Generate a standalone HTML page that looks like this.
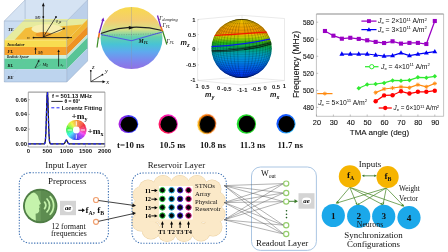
<!DOCTYPE html>
<html><head><meta charset="utf-8"><style>html,body{margin:0;padding:0;background:#fff;overflow:hidden}svg{display:block}</style></head>
<body><svg width="448" height="252" viewBox="0 0 448 252"><defs><linearGradient id="sph1" x1="0" y1="0" x2="0" y2="1"><stop offset="0" stop-color="#f8da4e"/><stop offset="0.22" stop-color="#f4cc70"/><stop offset="0.36" stop-color="#d8e088"/><stop offset="0.48" stop-color="#64d0ac"/><stop offset="0.6" stop-color="#48c4d4"/><stop offset="0.72" stop-color="#5eaaee"/><stop offset="0.86" stop-color="#7c88ee"/><stop offset="1" stop-color="#9070e4"/></linearGradient><linearGradient id="jet" x1="0" y1="0" x2="0" y2="1"><stop offset="0" stop-color="#eccc00"/><stop offset="0.08" stop-color="#f0b400"/><stop offset="0.17" stop-color="#f09e00"/><stop offset="0.24" stop-color="#f09000"/><stop offset="0.27" stop-color="#e8c800"/><stop offset="0.33" stop-color="#a8d000"/><stop offset="0.4" stop-color="#28b818"/><stop offset="0.5" stop-color="#00a868"/><stop offset="0.58" stop-color="#00a0b0"/><stop offset="0.68" stop-color="#0090dc"/><stop offset="0.8" stop-color="#0066e8"/><stop offset="0.92" stop-color="#0040ec"/><stop offset="1" stop-color="#0030d8"/></linearGradient><clipPath id="c3"><ellipse cx="241.6" cy="48.5" rx="30.2" ry="29.6"/></clipPath><linearGradient id="skg0" x1="0" y1="0" x2="1" y2="0"><stop offset="0" stop-color="#b020e0"/><stop offset="0.5" stop-color="#5030f0"/><stop offset="1" stop-color="#2040ff"/></linearGradient><linearGradient id="skg1" x1="0" y1="1" x2="1" y2="0"><stop offset="0" stop-color="#ff1030"/><stop offset="0.5" stop-color="#ff1890"/><stop offset="1" stop-color="#f020e0"/></linearGradient><linearGradient id="skg2" x1="0" y1="1" x2="1" y2="0"><stop offset="0" stop-color="#ffe020"/><stop offset="0.45" stop-color="#ff8000"/><stop offset="1" stop-color="#f05000"/></linearGradient><linearGradient id="skg3" x1="0" y1="0" x2="1" y2="0"><stop offset="0" stop-color="#20e030"/><stop offset="1" stop-color="#20d020"/></linearGradient><linearGradient id="skg4" x1="0" y1="0" x2="1" y2="1"><stop offset="0" stop-color="#1040ff"/><stop offset="0.5" stop-color="#1870ff"/><stop offset="1" stop-color="#40e0ff"/></linearGradient><filter id="blur1" x="-30%" y="-30%" width="160%" height="160%"><feGaussianBlur stdDeviation="0.6"/></filter><filter id="blur2" x="-30%" y="-30%" width="160%" height="160%"><feGaussianBlur stdDeviation="0.45"/></filter><clipPath id="ic"><circle cx="40.2" cy="206" r="15.3"/></clipPath><filter id="halo" x="-50%" y="-50%" width="200%" height="200%"><feGaussianBlur stdDeviation="0.5"/></filter></defs><g id="p1"><polygon points="4.3,21 66.8,21 87.6,0 25.1,0" fill="#d5e3f3"/><rect x="4.3" y="21" width="62.5" height="19.0" fill="#cadcf1"/><polygon points="66.8,21 87.6,0 87.6,19 66.8,40" fill="#bcd0ea"/><rect x="4.3" y="40" width="62.5" height="7.0" fill="#f8dc50"/><polygon points="66.8,40 87.6,19 87.6,26 66.8,47" fill="#f1b632"/><rect x="4.3" y="47" width="62.5" height="8.2" fill="#f6a22c"/><polygon points="66.8,47 87.6,26 87.6,34.2 66.8,55.2" fill="#ee9222"/><rect x="4.3" y="55.2" width="62.5" height="3.4" fill="#cdeedf"/><polygon points="66.8,55.2 87.6,34.2 87.6,37.6 66.8,58.6" fill="#bfe4d4"/><rect x="4.3" y="58.6" width="62.5" height="10.7" fill="#5ccb9a"/><polygon points="66.8,58.6 87.6,37.6 87.6,48.3 66.8,69.3" fill="#58c496"/><rect x="4.3" y="69.3" width="62.5" height="12.7" fill="#bdd4ee"/><polygon points="66.8,69.3 87.6,48.3 87.6,61 66.8,82" fill="#b2cbe8"/><polygon points="4.3,40 66.8,40 87.6,19 25.1,19" fill="#e6eb9e"/><polygon points="14.5,40 25.5,28.3 32,27 62,26.2 82.2,24.5 66.8,40" fill="#f3bc3a"/><ellipse cx="47" cy="29" rx="15.5" ry="4.8" fill="#f7efb0"/><ellipse cx="43.5" cy="34.5" rx="8" ry="2.4" fill="#ee9a2a"/><line x1="4.3" y1="40" x2="66.8" y2="40" stroke="#fbf0b0" stroke-width="0.6"/><polyline points="4.3,82 4.3,21 25.1,0" stroke="#8aa0c0" stroke-width="0.45" fill="none"/><polyline points="4.3,21 66.8,21 66.8,82 4.3,82" stroke="#8aa0c0" stroke-width="0.45" fill="none"/><polyline points="66.8,82 87.6,61 87.6,0" stroke="#8aa0c0" stroke-width="0.45" fill="none"/><line x1="66.8" y1="21" x2="87.6" y2="0" stroke="#8aa0c0" stroke-width="0.45" fill="none"/><line x1="25.1" y1="0" x2="25.1" y2="19" stroke="#8aa0c0" stroke-width="0.45" fill="none"/><line x1="4.3" y1="82" x2="25.1" y2="61.5" stroke="#8aa0c0" stroke-width="0.3" stroke-dasharray="1,1"/><g stroke="#111" stroke-width="0.75" fill="none"><line x1="43.3" y1="37" x2="43.3" y2="5"/><line x1="43.3" y1="37" x2="56" y2="17"/><line x1="43.3" y1="37" x2="64" y2="28.5"/><line x1="33" y1="37.6" x2="72" y2="37.6" stroke-width="0.9"/><line x1="35.5" y1="54" x2="35.5" y2="49"/><line x1="35" y1="68" x2="38.5" y2="61.5"/><line x1="35" y1="68" x2="41" y2="64.5" stroke-width="0.4" stroke-dasharray="0.8,0.6"/><line x1="58.6" y1="66.5" x2="58.6" y2="51.5"/></g><g fill="#111"><polygon points="41.9,6.2 44.7,6.2 43.3,2.6"/><circle cx="43.3" cy="17" r="0.9"/><circle cx="56" cy="17" r="0.9"/><circle cx="64" cy="28.5" r="0.9"/><circle cx="33.5" cy="37.6" r="0.9"/><circle cx="68" cy="37.6" r="0.9"/><polygon points="34.3,49.5 36.7,49.5 35.5,47.3"/><polygon points="57.4,52 59.8,52 58.6,49.6"/><polygon points="37.4,61.2 39.4,62.3 39.2,59.6"/></g><g font-family="Liberation Serif, Times New Roman, serif" font-style="italic" font-weight="bold" font-size="4.5" fill="#111"><text x="8" y="31">TE</text><text x="7.3" y="45.7">Insulator</text><text x="7.5" y="53">FL</text><text x="7" y="58.3" font-size="3.3">Realistic Spacer</text><text x="7.5" y="66.5">RL</text><text x="7.5" y="79">BE</text></g><g font-family="Liberation Serif, Times New Roman, serif" font-style="italic" font-size="4.6" fill="#111"><text x="35" y="18.5">M<tspan font-size="3" dy="0.8">0</tspan></text><text x="56" y="23" font-size="4">θ,φ</text><text x="38" y="53.5">M<tspan font-size="3" dy="0.8">f</tspan></text><text x="42.5" y="66">M<tspan font-size="3" dy="0.8">R</tspan></text><text x="60.5" y="66" font-size="4.2">z<tspan font-size="3" dy="0.8">r</tspan></text><text x="27" y="38.5" font-size="4">r<tspan font-size="3" dy="0.8">c</tspan></text></g></g><g stroke="#111" stroke-width="0.7" fill="none"><line x1="90.8" y1="81.7" x2="90.8" y2="70.5"/><line x1="90.8" y1="81.7" x2="103.5" y2="81.7"/><line x1="90.8" y1="81.7" x2="102.5" y2="74.7"/></g><g fill="#111"><circle cx="90.8" cy="70.8" r="0.9"/><circle cx="102.5" cy="74.7" r="0.9"/><polygon points="102.5,80.2 105.5,81.7 102.5,83.2"/></g><g font-family="Liberation Serif, Times New Roman, serif" font-style="italic" font-size="6.5" fill="#111"><text x="92" y="68.5">z</text><text x="105" y="73">y</text><text x="106.3" y="84">x</text></g><circle cx="131.5" cy="38" r="31" fill="url(#sph1)"/><line x1="131.5" y1="7" x2="131.5" y2="69" stroke="#8890a8" stroke-width="0.35"/><path d="M100.8,33.5 Q131.5,22.5 162.3,30.5" fill="none" stroke="#222" stroke-width="1.1"/><polygon points="128.8,26 134.2,27.8 128.8,29.6" fill="#111"/><path d="M100.8,34.5 L131.5,40.8 L162.3,32" fill="none" stroke="#4d5ce0" stroke-width="1.1"/><line x1="102" y1="35.4" x2="160" y2="33.6" stroke="#335" stroke-width="0.35" stroke-dasharray="1.2,1.2" opacity="0.7"/><line x1="99.2" y1="33" x2="102.8" y2="20.5" stroke="#7020c0" stroke-width="1.3"/><polygon points="101.2,20.5 104.4,21.3 103.4,17.6" fill="#7020c0"/><line x1="99.4" y1="33" x2="98.4" y2="38.5" stroke="#f27020" stroke-width="1.6"/><line x1="98.4" y1="37.5" x2="97" y2="47.5" stroke="#3a8a20" stroke-width="1.2"/><line x1="157.5" y1="15.5" x2="160.8" y2="27" stroke="#7020c0" stroke-width="1.3"/><line x1="160.8" y1="26.5" x2="162.6" y2="31.5" stroke="#f27020" stroke-width="1.6"/><line x1="162.6" y1="31" x2="166.8" y2="44.5" stroke="#3a8a20" stroke-width="1.2"/><g font-family="Liberation Serif, Times New Roman, serif" font-style="italic" fill="#111"><text x="159.2" y="20.2" font-size="5.4">Γ<tspan font-size="4.4" dy="1">damping</tspan></text><text x="162.6" y="26.6" font-size="5.4">Γ<tspan font-size="4" dy="1">FL</tspan></text><text x="166.5" y="43.4" font-size="5.4">Γ<tspan font-size="4" dy="1">FL</tspan></text><text x="138.5" y="42.6" font-size="5.8" font-weight="bold">M<tspan font-size="3.6" dy="1">FL</tspan></text></g><g stroke="#d4d4d4" stroke-width="0.5" fill="none"><polyline points="197.6,19.5 197.6,80.5 241,85"/><polyline points="197.6,19.5 242,15.3 284.5,18.5"/><line x1="241" y1="85" x2="284.5" y2="80.5"/><line x1="242" y1="15.3" x2="242" y2="19"/><line x1="284.5" y1="18.5" x2="284.5" y2="80.5"/><line x1="197.6" y1="80.5" x2="241" y2="77"/><line x1="241" y1="77" x2="284.5" y2="80.5"/></g><g stroke="#aaa" stroke-width="0.4"><line x1="197.6" y1="19.8" x2="199" y2="19.8"/><line x1="197.6" y1="34.6" x2="199" y2="34.6"/><line x1="197.6" y1="49" x2="199" y2="49"/><line x1="197.6" y1="64.9" x2="199" y2="64.9"/><line x1="197.6" y1="80" x2="199" y2="80"/></g><ellipse cx="241.6" cy="48.5" rx="30.2" ry="29.6" fill="url(#jet)"/><g clip-path="url(#c3)"><path d="M229.53,21.37 A12.07,2.37 0 0 0 253.67,21.37" fill="none" stroke="#000" stroke-opacity="0.4" stroke-width="0.3"/><path d="M224.91,23.83 A16.69,3.27 0 0 0 258.29,23.83" fill="none" stroke="#000" stroke-opacity="0.4" stroke-width="0.3"/><path d="M221.62,26.30 A19.98,3.92 0 0 0 261.58,26.30" fill="none" stroke="#000" stroke-opacity="0.4" stroke-width="0.3"/><path d="M219.09,28.77 A22.51,4.41 0 0 0 264.11,28.77" fill="none" stroke="#000" stroke-opacity="0.4" stroke-width="0.3"/><path d="M217.07,31.23 A24.53,4.81 0 0 0 266.13,31.23" fill="none" stroke="#000" stroke-opacity="0.4" stroke-width="0.3"/><path d="M215.45,33.70 A26.15,5.13 0 0 0 267.75,33.70" fill="none" stroke="#000" stroke-opacity="0.4" stroke-width="0.3"/><path d="M214.15,36.17 A27.45,5.38 0 0 0 269.05,36.17" fill="none" stroke="#000" stroke-opacity="0.4" stroke-width="0.3"/><path d="M213.13,38.63 A28.47,5.58 0 0 0 270.07,38.63" fill="none" stroke="#000" stroke-opacity="0.4" stroke-width="0.3"/><path d="M212.36,41.10 A29.24,5.73 0 0 0 270.84,41.10" fill="none" stroke="#000" stroke-opacity="0.4" stroke-width="0.3"/><path d="M211.82,43.57 A29.78,5.84 0 0 0 271.38,43.57" fill="none" stroke="#000" stroke-opacity="0.4" stroke-width="0.3"/><path d="M211.51,46.03 A30.09,5.90 0 0 0 271.69,46.03" fill="none" stroke="#000" stroke-opacity="0.4" stroke-width="0.3"/><path d="M211.40,48.50 A30.20,5.92 0 0 0 271.80,48.50" fill="none" stroke="#000" stroke-opacity="0.4" stroke-width="0.3"/><path d="M211.51,50.97 A30.09,5.90 0 0 0 271.69,50.97" fill="none" stroke="#000" stroke-opacity="0.4" stroke-width="0.3"/><path d="M211.82,53.43 A29.78,5.84 0 0 0 271.38,53.43" fill="none" stroke="#000" stroke-opacity="0.4" stroke-width="0.3"/><path d="M212.36,55.90 A29.24,5.73 0 0 0 270.84,55.90" fill="none" stroke="#000" stroke-opacity="0.4" stroke-width="0.3"/><path d="M213.13,58.37 A28.47,5.58 0 0 0 270.07,58.37" fill="none" stroke="#000" stroke-opacity="0.4" stroke-width="0.3"/><path d="M214.15,60.83 A27.45,5.38 0 0 0 269.05,60.83" fill="none" stroke="#000" stroke-opacity="0.4" stroke-width="0.3"/><path d="M215.45,63.30 A26.15,5.13 0 0 0 267.75,63.30" fill="none" stroke="#000" stroke-opacity="0.4" stroke-width="0.3"/><path d="M217.07,65.77 A24.53,4.81 0 0 0 266.13,65.77" fill="none" stroke="#000" stroke-opacity="0.4" stroke-width="0.3"/><path d="M219.09,68.23 A22.51,4.41 0 0 0 264.11,68.23" fill="none" stroke="#000" stroke-opacity="0.4" stroke-width="0.3"/><path d="M221.62,70.70 A19.98,3.92 0 0 0 261.58,70.70" fill="none" stroke="#000" stroke-opacity="0.4" stroke-width="0.3"/><path d="M224.91,73.17 A16.69,3.27 0 0 0 258.29,73.17" fill="none" stroke="#000" stroke-opacity="0.4" stroke-width="0.3"/><path d="M229.53,75.63 A12.07,2.37 0 0 0 253.67,75.63" fill="none" stroke="#000" stroke-opacity="0.4" stroke-width="0.3"/><ellipse cx="241.6" cy="48.5" rx="29.94" ry="29.6" fill="none" stroke="#000" stroke-opacity="0.35" stroke-width="0.3"/><ellipse cx="241.6" cy="48.5" rx="29.17" ry="29.6" fill="none" stroke="#000" stroke-opacity="0.35" stroke-width="0.3"/><ellipse cx="241.6" cy="48.5" rx="27.90" ry="29.6" fill="none" stroke="#000" stroke-opacity="0.35" stroke-width="0.3"/><ellipse cx="241.6" cy="48.5" rx="26.15" ry="29.6" fill="none" stroke="#000" stroke-opacity="0.35" stroke-width="0.3"/><ellipse cx="241.6" cy="48.5" rx="23.96" ry="29.6" fill="none" stroke="#000" stroke-opacity="0.35" stroke-width="0.3"/><ellipse cx="241.6" cy="48.5" rx="21.35" ry="29.6" fill="none" stroke="#000" stroke-opacity="0.35" stroke-width="0.3"/><ellipse cx="241.6" cy="48.5" rx="18.38" ry="29.6" fill="none" stroke="#000" stroke-opacity="0.35" stroke-width="0.3"/><ellipse cx="241.6" cy="48.5" rx="15.10" ry="29.6" fill="none" stroke="#000" stroke-opacity="0.35" stroke-width="0.3"/><ellipse cx="241.6" cy="48.5" rx="11.56" ry="29.6" fill="none" stroke="#000" stroke-opacity="0.35" stroke-width="0.3"/><ellipse cx="241.6" cy="48.5" rx="7.82" ry="29.6" fill="none" stroke="#000" stroke-opacity="0.35" stroke-width="0.3"/><ellipse cx="241.6" cy="48.5" rx="3.94" ry="29.6" fill="none" stroke="#000" stroke-opacity="0.35" stroke-width="0.3"/><ellipse cx="241.6" cy="48.5" rx="0.00" ry="29.6" fill="none" stroke="#000" stroke-opacity="0.35" stroke-width="0.3"/><ellipse cx="241.6" cy="48.5" rx="3.94" ry="29.6" fill="none" stroke="#000" stroke-opacity="0.35" stroke-width="0.3"/><ellipse cx="241.6" cy="48.5" rx="7.82" ry="29.6" fill="none" stroke="#000" stroke-opacity="0.35" stroke-width="0.3"/><ellipse cx="241.6" cy="48.5" rx="11.56" ry="29.6" fill="none" stroke="#000" stroke-opacity="0.35" stroke-width="0.3"/><ellipse cx="241.6" cy="48.5" rx="15.10" ry="29.6" fill="none" stroke="#000" stroke-opacity="0.35" stroke-width="0.3"/><ellipse cx="241.6" cy="48.5" rx="18.38" ry="29.6" fill="none" stroke="#000" stroke-opacity="0.35" stroke-width="0.3"/><ellipse cx="241.6" cy="48.5" rx="21.35" ry="29.6" fill="none" stroke="#000" stroke-opacity="0.35" stroke-width="0.3"/><ellipse cx="241.6" cy="48.5" rx="23.96" ry="29.6" fill="none" stroke="#000" stroke-opacity="0.35" stroke-width="0.3"/><ellipse cx="241.6" cy="48.5" rx="26.15" ry="29.6" fill="none" stroke="#000" stroke-opacity="0.35" stroke-width="0.3"/><ellipse cx="241.6" cy="48.5" rx="27.90" ry="29.6" fill="none" stroke="#000" stroke-opacity="0.35" stroke-width="0.3"/><ellipse cx="241.6" cy="48.5" rx="29.17" ry="29.6" fill="none" stroke="#000" stroke-opacity="0.35" stroke-width="0.3"/><ellipse cx="241.6" cy="48.5" rx="29.94" ry="29.6" fill="none" stroke="#000" stroke-opacity="0.35" stroke-width="0.3"/><path d="M211,35.6 Q240,34.2 272,31.6" stroke="#f01800" stroke-width="1.3" fill="none"/><path d="M211,46.6 Q245,45 272,38.6" stroke="#0818f0" stroke-width="1.4" fill="none"/><path d="M211,50.8 Q245,50.5 272,42.4" stroke="#111" stroke-width="0.8" fill="none"/><path d="M212,51.8 Q248,51.5 272,44" stroke="#111" stroke-width="0.6" fill="none"/><path d="M228,48.6 Q252,48.2 272,41.2" stroke="#111" stroke-width="0.4" fill="none"/><path d="M244,49.5 Q260,47.8 272,43.6" stroke="#000" stroke-width="0.5" fill="none"/></g><g font-family="Liberation Sans, Arial, sans-serif" font-weight="bold" font-size="5.8" fill="#111" text-anchor="end"><text x="195.6" y="21.6">1</text><text x="196" y="36.7">0.5</text><text x="195.6" y="50.7">0</text><text x="196" y="67">-0.5</text><text x="195.6" y="82.1">-1</text></g><g font-family="Liberation Sans, Arial, sans-serif" font-weight="bold" font-size="5.8" fill="#111" text-anchor="middle"><text x="197" y="88">1</text><text x="205.5" y="89">0.5</text><text x="218.7" y="90">0</text><text x="226.5" y="91">-0.5</text><text x="239.6" y="92">-1</text><text x="244.8" y="92">-1</text><text x="256" y="91">-0.5</text><text x="265.2" y="90">0</text><text x="276" y="89">0.5</text><text x="284.3" y="88">1</text></g><g font-family="Liberation Sans, Arial, sans-serif" font-weight="bold" font-style="italic" font-size="7.2" fill="#111"><text x="180.6" y="45">m<tspan font-size="5.2" dy="1.8">z</tspan></text><text x="205" y="97.2">m<tspan font-size="5.2" dy="1.8">y</tspan></text><text x="270" y="97.2">m<tspan font-size="5.2" dy="1.8">x</tspan></text></g><line x1="316.4" y1="14" x2="443.6" y2="14" stroke="#8a8a8a" stroke-width="1.1"/><polyline points="316.4,14 316.4,116.3 443.6,116.3 443.6,14" fill="none" stroke="#9a9a9a" stroke-width="0.6"/><g stroke="#888" stroke-width="0.5"><line x1="316.50" y1="116.3" x2="316.50" y2="114.5"/><line x1="333.40" y1="116.3" x2="333.40" y2="114.5"/><line x1="350.30" y1="116.3" x2="350.30" y2="114.5"/><line x1="367.20" y1="116.3" x2="367.20" y2="114.5"/><line x1="384.10" y1="116.3" x2="384.10" y2="114.5"/><line x1="401.00" y1="116.3" x2="401.00" y2="114.5"/><line x1="417.90" y1="116.3" x2="417.90" y2="114.5"/><line x1="434.80" y1="116.3" x2="434.80" y2="114.5"/><line x1="316.4" y1="107.40" x2="318.2" y2="107.40"/><line x1="316.4" y1="90.36" x2="318.2" y2="90.36"/><line x1="316.4" y1="73.32" x2="318.2" y2="73.32"/><line x1="316.4" y1="56.28" x2="318.2" y2="56.28"/><line x1="316.4" y1="39.24" x2="318.2" y2="39.24"/><line x1="316.4" y1="22.20" x2="318.2" y2="22.20"/></g><g font-family="Liberation Sans, Arial, sans-serif" font-size="7.3" fill="#111" stroke="#111" stroke-width="0.12" text-anchor="end"><text x="313.8" y="110.00" textLength="10.8" lengthAdjust="spacingAndGlyphs">480</text><text x="313.8" y="92.96" textLength="10.8" lengthAdjust="spacingAndGlyphs">500</text><text x="313.8" y="75.92" textLength="10.8" lengthAdjust="spacingAndGlyphs">520</text><text x="313.8" y="58.88" textLength="10.8" lengthAdjust="spacingAndGlyphs">540</text><text x="313.8" y="41.84" textLength="10.8" lengthAdjust="spacingAndGlyphs">560</text><text x="313.8" y="24.80" textLength="10.8" lengthAdjust="spacingAndGlyphs">580</text></g><g font-family="Liberation Sans, Arial, sans-serif" font-size="7.3" fill="#111" stroke="#111" stroke-width="0.12" text-anchor="middle"><text x="316.90" y="124.8">20</text><text x="333.80" y="124.8">30</text><text x="350.70" y="124.8">40</text><text x="367.60" y="124.8">50</text><text x="384.50" y="124.8">60</text><text x="401.40" y="124.8">70</text><text x="418.30" y="124.8">80</text><text x="435.20" y="124.8">90</text></g><text font-family="Liberation Sans, Arial, sans-serif" font-size="8.05" fill="#111" stroke="#111" stroke-width="0.1" x="379.5" y="135.3" text-anchor="middle">TMA angle (deg)</text><text font-family="Liberation Sans, Arial, sans-serif" font-size="8.7" fill="#111" stroke="#111" stroke-width="0.1" transform="translate(298.6,64.5) rotate(-90)" text-anchor="middle">Frequency (MHz)</text><polyline points="324.95,31.00 333.40,35.70 341.85,38.70 350.30,37.80 358.75,38.90 367.20,40.30 375.65,41.90 384.10,43.00 392.55,41.30 401.00,43.60 409.45,42.90 417.90,42.90 426.35,44.00 434.80,21.00" fill="none" stroke="#9a00c4" stroke-width="1.25"/><rect x="322.90" y="28.95" width="4.10" height="4.10" fill="#9a00c4"/><rect x="331.35" y="33.65" width="4.10" height="4.10" fill="#9a00c4"/><rect x="339.80" y="36.65" width="4.10" height="4.10" fill="#9a00c4"/><rect x="348.25" y="35.75" width="4.10" height="4.10" fill="#9a00c4"/><rect x="356.70" y="36.85" width="4.10" height="4.10" fill="#9a00c4"/><rect x="365.15" y="38.25" width="4.10" height="4.10" fill="#9a00c4"/><rect x="373.60" y="39.85" width="4.10" height="4.10" fill="#9a00c4"/><rect x="382.05" y="40.95" width="4.10" height="4.10" fill="#9a00c4"/><rect x="390.50" y="39.25" width="4.10" height="4.10" fill="#9a00c4"/><rect x="398.95" y="41.55" width="4.10" height="4.10" fill="#9a00c4"/><rect x="407.40" y="40.85" width="4.10" height="4.10" fill="#9a00c4"/><rect x="415.85" y="40.85" width="4.10" height="4.10" fill="#9a00c4"/><rect x="424.30" y="41.95" width="4.10" height="4.10" fill="#9a00c4"/><rect x="432.75" y="18.95" width="4.10" height="4.10" fill="#9a00c4"/><polyline points="341.85,54.00 350.30,54.00 358.75,54.00 367.20,54.00 375.65,55.00 384.10,56.00 392.55,55.60 401.00,52.90 409.45,55.60 417.90,54.10 426.35,52.90 434.80,51.60" fill="none" stroke="#0000f4" stroke-width="1.25"/><polygon points="341.85,51.35 339.40,55.72 344.30,55.72" fill="#0000f4"/><polygon points="350.30,51.35 347.85,55.72 352.75,55.72" fill="#0000f4"/><polygon points="358.75,51.35 356.30,55.72 361.20,55.72" fill="#0000f4"/><polygon points="367.20,51.35 364.75,55.72 369.65,55.72" fill="#0000f4"/><polygon points="375.65,52.35 373.20,56.72 378.10,56.72" fill="#0000f4"/><polygon points="384.10,53.35 381.65,57.72 386.55,57.72" fill="#0000f4"/><polygon points="392.55,52.95 390.10,57.32 395.00,57.32" fill="#0000f4"/><polygon points="401.00,50.25 398.55,54.62 403.45,54.62" fill="#0000f4"/><polygon points="409.45,52.95 407.00,57.32 411.90,57.32" fill="#0000f4"/><polygon points="417.90,51.45 415.45,55.82 420.35,55.82" fill="#0000f4"/><polygon points="426.35,50.25 423.90,54.62 428.80,54.62" fill="#0000f4"/><polygon points="434.80,48.95 432.35,53.32 437.25,53.32" fill="#0000f4"/><polyline points="358.75,88.30 367.20,84.50 375.65,84.00 384.10,82.90 392.55,80.50 401.00,80.70 409.45,80.20 417.90,77.30 426.35,77.70 434.80,76.30" fill="none" stroke="#30ea30" stroke-width="1.25"/><polygon points="358.75,86.05 361.00,88.30 358.75,90.55 356.50,88.30" fill="#30ea30"/><polygon points="367.20,82.25 369.45,84.50 367.20,86.75 364.95,84.50" fill="#30ea30"/><polygon points="375.65,81.75 377.90,84.00 375.65,86.25 373.40,84.00" fill="#30ea30"/><polygon points="384.10,80.65 386.35,82.90 384.10,85.15 381.85,82.90" fill="#30ea30"/><polygon points="392.55,78.25 394.80,80.50 392.55,82.75 390.30,80.50" fill="#30ea30"/><polygon points="401.00,78.45 403.25,80.70 401.00,82.95 398.75,80.70" fill="#30ea30"/><polygon points="409.45,77.95 411.70,80.20 409.45,82.45 407.20,80.20" fill="#30ea30"/><polygon points="417.90,75.05 420.15,77.30 417.90,79.55 415.65,77.30" fill="#30ea30"/><polygon points="426.35,75.45 428.60,77.70 426.35,79.95 424.10,77.70" fill="#30ea30"/><polygon points="434.80,74.05 437.05,76.30 434.80,78.55 432.55,76.30" fill="#30ea30"/><polyline points="375.65,92.60 384.10,89.00 392.55,88.00 401.00,86.80 409.45,87.70 417.90,84.70 426.35,86.80 434.80,83.50" fill="none" stroke="#ff8a10" stroke-width="1.25"/><g stroke="#ff8a10" stroke-width="0.9"><line x1="373.60" y1="92.60" x2="377.70" y2="92.60"/><line x1="375.65" y1="90.55" x2="375.65" y2="94.65"/><line x1="374.21" y1="91.16" x2="377.08" y2="94.03"/><line x1="374.21" y1="94.03" x2="377.08" y2="91.16"/></g><g stroke="#ff8a10" stroke-width="0.9"><line x1="382.05" y1="89.00" x2="386.15" y2="89.00"/><line x1="384.10" y1="86.95" x2="384.10" y2="91.05"/><line x1="382.67" y1="87.56" x2="385.54" y2="90.44"/><line x1="382.67" y1="90.44" x2="385.54" y2="87.56"/></g><g stroke="#ff8a10" stroke-width="0.9"><line x1="390.50" y1="88.00" x2="394.60" y2="88.00"/><line x1="392.55" y1="85.95" x2="392.55" y2="90.05"/><line x1="391.12" y1="86.56" x2="393.99" y2="89.44"/><line x1="391.12" y1="89.44" x2="393.99" y2="86.56"/></g><g stroke="#ff8a10" stroke-width="0.9"><line x1="398.95" y1="86.80" x2="403.05" y2="86.80"/><line x1="401.00" y1="84.75" x2="401.00" y2="88.85"/><line x1="399.56" y1="85.36" x2="402.44" y2="88.23"/><line x1="399.56" y1="88.23" x2="402.44" y2="85.36"/></g><g stroke="#ff8a10" stroke-width="0.9"><line x1="407.40" y1="87.70" x2="411.50" y2="87.70"/><line x1="409.45" y1="85.65" x2="409.45" y2="89.75"/><line x1="408.01" y1="86.27" x2="410.88" y2="89.14"/><line x1="408.01" y1="89.14" x2="410.88" y2="86.27"/></g><g stroke="#ff8a10" stroke-width="0.9"><line x1="415.85" y1="84.70" x2="419.95" y2="84.70"/><line x1="417.90" y1="82.65" x2="417.90" y2="86.75"/><line x1="416.46" y1="83.27" x2="419.33" y2="86.14"/><line x1="416.46" y1="86.14" x2="419.33" y2="83.27"/></g><g stroke="#ff8a10" stroke-width="0.9"><line x1="424.30" y1="86.80" x2="428.40" y2="86.80"/><line x1="426.35" y1="84.75" x2="426.35" y2="88.85"/><line x1="424.92" y1="85.36" x2="427.79" y2="88.23"/><line x1="424.92" y1="88.23" x2="427.79" y2="85.36"/></g><g stroke="#ff8a10" stroke-width="0.9"><line x1="432.75" y1="83.50" x2="436.85" y2="83.50"/><line x1="434.80" y1="81.45" x2="434.80" y2="85.55"/><line x1="433.37" y1="82.06" x2="436.24" y2="84.94"/><line x1="433.37" y1="84.94" x2="436.24" y2="82.06"/></g><polyline points="375.65,101.20 384.10,95.40 392.55,95.20 401.00,91.30 409.45,93.50 417.90,91.80 426.35,91.80 434.80,90.70" fill="none" stroke="#ff0000" stroke-width="1.25"/><circle cx="375.65" cy="101.20" r="2.20" fill="#ff0000"/><circle cx="384.10" cy="95.40" r="2.20" fill="#ff0000"/><circle cx="392.55" cy="95.20" r="2.20" fill="#ff0000"/><circle cx="401.00" cy="91.30" r="2.20" fill="#ff0000"/><circle cx="409.45" cy="93.50" r="2.20" fill="#ff0000"/><circle cx="417.90" cy="91.80" r="2.20" fill="#ff0000"/><circle cx="426.35" cy="91.80" r="2.20" fill="#ff0000"/><circle cx="434.80" cy="90.70" r="2.20" fill="#ff0000"/><line x1="361.4" y1="21.1" x2="376.5" y2="21.1" stroke="#9a00c4" stroke-width="1.25"/><rect x="367.00" y="19.15" width="3.90" height="3.90" fill="#9a00c4"/><text font-family="Liberation Sans, Arial, sans-serif" font-size="6.85" letter-spacing="-0.06" fill="#111" x="378" y="23.4"><tspan font-style="italic">J</tspan><tspan font-size="4.4" dy="1">e</tspan><tspan dy="-1"> = 2×10</tspan><tspan font-size="4.4" dy="-2.5">11</tspan><tspan dy="2.5"> A/m</tspan><tspan font-size="4.4" dy="-2.5">2</tspan></text><line x1="361.4" y1="29.6" x2="376.5" y2="29.6" stroke="#0000f4" stroke-width="1.25"/><polygon points="368.95,27.15 366.70,31.16 371.20,31.16" fill="#0000f4"/><text font-family="Liberation Sans, Arial, sans-serif" font-size="6.85" letter-spacing="-0.06" fill="#111" x="378" y="31.9"><tspan font-style="italic">J</tspan><tspan font-size="4.4" dy="1">e</tspan><tspan dy="-1"> = 3×10</tspan><tspan font-size="4.4" dy="-2.5">11</tspan><tspan dy="2.5"> A/m</tspan><tspan font-size="4.4" dy="-2.5">2</tspan></text><line x1="365" y1="66.7" x2="378.5" y2="66.7" stroke="#30ea30" stroke-width="1.25"/><circle cx="371.75" cy="66.70" r="2.15" fill="#fff" stroke="#30ea30" stroke-width="1"/><text font-family="Liberation Sans, Arial, sans-serif" font-size="6.85" letter-spacing="-0.06" fill="#111" x="381" y="68.6"><tspan font-style="italic">J</tspan><tspan font-size="4.4" dy="1">e</tspan><tspan dy="-1"> = 4×10</tspan><tspan font-size="4.4" dy="-2.5">11</tspan><tspan dy="2.5"> A/m</tspan><tspan font-size="4.4" dy="-2.5">2</tspan></text><line x1="317.2" y1="93.6" x2="332.5" y2="93.6" stroke="#ff8a10" stroke-width="1.25"/><g stroke="#ff8a10" stroke-width="0.9"><line x1="322.90" y1="93.60" x2="326.80" y2="93.60"/><line x1="324.85" y1="91.65" x2="324.85" y2="95.55"/><line x1="323.49" y1="92.23" x2="326.22" y2="94.96"/><line x1="323.49" y1="94.96" x2="326.22" y2="92.23"/></g><text font-family="Liberation Sans, Arial, sans-serif" font-size="6.85" letter-spacing="-0.06" fill="#111" x="318.2" y="104.9"><tspan font-style="italic">J</tspan><tspan font-size="4.4" dy="1">e</tspan><tspan dy="-1"> = 5×10</tspan><tspan font-size="4.4" dy="-2.5">11</tspan><tspan dy="2.5"> A/m</tspan><tspan font-size="4.4" dy="-2.5">2</tspan></text><line x1="378.7" y1="108" x2="391.8" y2="108" stroke="#ff0000" stroke-width="1.25"/><circle cx="385.25" cy="108.00" r="2.15" fill="#ff0000"/><text font-family="Liberation Sans, Arial, sans-serif" font-size="6.3" letter-spacing="-0.06" fill="#111" x="393.6" y="110.2"><tspan font-style="italic">J</tspan><tspan font-size="4.4" dy="1">e</tspan><tspan dy="-1"> = 6×10</tspan><tspan font-size="4.4" dy="-2.5">11</tspan><tspan dy="2.5"> A/m</tspan><tspan font-size="4.4" dy="-2.5">2</tspan></text><line x1="28.3" y1="92.1" x2="104.9" y2="92.1" stroke="#8a8a8a" stroke-width="1"/><polyline points="28.3,92.1 28.3,147 104.9,147 104.9,92.1" fill="none" stroke="#8a8a8a" stroke-width="0.7"/><polyline points="28.30,143.90 30.21,143.90 32.11,143.90 34.02,143.90 35.92,143.90 37.83,143.90 39.73,143.90 41.63,143.90 43.54,143.90 43.56,143.90 43.58,143.90 43.60,143.90 43.62,143.90 43.64,143.89 43.65,143.89 43.67,143.89 43.69,143.89 43.71,143.89 43.73,143.89 43.75,143.89 43.77,143.89 43.79,143.89 43.81,143.89 43.83,143.89 43.84,143.89 43.86,143.88 43.88,143.88 43.90,143.88 43.92,143.88 43.94,143.88 43.96,143.88 43.98,143.87 44.00,143.87 44.02,143.87 44.04,143.87 44.05,143.86 44.07,143.86 44.09,143.86 44.11,143.85 44.13,143.85 44.15,143.84 44.17,143.84 44.19,143.83 44.21,143.83 44.23,143.82 44.24,143.82 44.26,143.81 44.28,143.80 44.30,143.79 44.32,143.79 44.34,143.78 44.36,143.77 44.38,143.76 44.40,143.75 44.42,143.73 44.44,143.72 44.45,143.71 44.47,143.69 44.49,143.68 44.51,143.66 44.53,143.64 44.55,143.63 44.57,143.61 44.59,143.58 44.61,143.56 44.63,143.54 44.64,143.51 44.66,143.49 44.68,143.46 44.70,143.43 44.72,143.39 44.74,143.36 44.76,143.32 44.78,143.28 44.80,143.24 44.82,143.20 44.84,143.15 44.85,143.10 44.87,143.05 44.89,143.00 44.91,142.94 44.93,142.88 44.95,142.82 44.97,142.75 44.99,142.68 45.01,142.60 45.03,142.53 45.04,142.44 45.06,142.36 45.08,142.27 45.10,142.17 45.12,142.07 45.14,141.96 45.16,141.85 45.18,141.74 45.20,141.62 45.22,141.49 45.24,141.36 45.25,141.22 45.27,141.07 45.29,140.92 45.31,140.76 45.33,140.60 45.35,140.42 45.37,140.24 45.39,140.06 45.41,139.86 45.43,139.66 45.45,139.45 45.46,139.23 45.48,139.01 45.50,138.77 45.52,138.53 45.54,138.27 45.56,138.01 45.58,137.74 45.60,137.46 45.62,137.16 45.64,136.86 45.65,136.55 45.67,136.23 45.69,135.90 45.71,135.56 45.73,135.21 45.75,134.84 45.77,134.47 45.79,134.09 45.81,133.69 45.83,133.28 45.85,132.87 45.86,132.44 45.88,132.00 45.90,131.55 45.92,131.09 45.94,130.62 45.96,130.14 45.98,129.64 46.00,129.14 46.02,128.63 46.04,128.10 46.05,127.57 46.07,127.02 46.09,126.46 46.11,125.90 46.13,125.32 46.15,124.74 46.17,124.15 46.19,123.55 46.21,122.94 46.23,122.32 46.25,121.69 46.26,121.06 46.28,120.42 46.30,119.77 46.32,119.12 46.34,118.46 46.36,117.80 46.38,117.13 46.40,116.46 46.42,115.78 46.44,115.10 46.45,114.42 46.47,113.73 46.49,113.05 46.51,112.36 46.53,111.68 46.55,110.99 46.57,110.31 46.59,109.63 46.61,108.95 46.63,108.27 46.65,107.60 46.66,106.94 46.68,106.28 46.70,105.62 46.72,104.97 46.74,104.33 46.76,103.70 46.78,103.08 46.80,102.47 46.82,101.87 46.84,101.28 46.85,100.70 46.87,100.13 46.89,99.58 46.91,99.04 46.93,98.52 46.95,98.02 46.97,97.53 46.99,97.05 47.01,96.60 47.03,96.16 47.05,95.74 47.06,95.34 47.08,94.96 47.10,94.60 47.12,94.26 47.14,93.94 47.16,93.65 47.18,93.37 47.20,93.12 47.22,92.89 47.24,92.69 47.25,92.60 47.27,92.60 47.29,92.60 47.31,92.60 47.33,92.60 47.35,92.60 47.37,92.60 47.39,92.60 47.41,92.60 47.43,92.60 47.45,92.60 47.46,92.60 47.48,92.60 47.50,92.60 47.52,92.60 47.54,92.69 47.56,92.89 47.58,93.12 47.60,93.37 47.62,93.65 47.64,93.94 47.65,94.26 47.67,94.60 47.69,94.96 47.71,95.34 47.73,95.74 47.75,96.16 47.77,96.60 47.79,97.05 47.81,97.53 47.83,98.02 47.85,98.52 47.86,99.04 47.88,99.58 47.90,100.13 47.92,100.70 47.94,101.28 47.96,101.87 47.98,102.47 48.00,103.08 48.02,103.70 48.04,104.33 48.05,104.97 48.07,105.62 48.09,106.28 48.11,106.94 48.13,107.60 48.15,108.27 48.17,108.95 48.19,109.63 48.21,110.31 48.23,110.99 48.25,111.68 48.26,112.36 48.28,113.05 48.30,113.73 48.32,114.42 48.34,115.10 48.36,115.78 48.38,116.46 48.40,117.13 48.42,117.80 48.44,118.46 48.45,119.12 48.47,119.77 48.49,120.42 48.51,121.06 48.53,121.69 48.55,122.32 48.57,122.94 48.59,123.55 48.61,124.15 48.63,124.74 48.65,125.32 48.66,125.90 48.68,126.46 48.70,127.02 48.72,127.57 48.74,128.10 48.76,128.63 48.78,129.14 48.80,129.64 48.82,130.14 48.84,130.62 48.85,131.09 48.87,131.55 48.89,132.00 48.91,132.44 48.93,132.87 48.95,133.28 48.97,133.69 48.99,134.09 49.01,134.47 49.03,134.84 49.05,135.21 49.06,135.56 49.08,135.90 49.10,136.23 49.12,136.55 49.14,136.86 49.16,137.16 49.18,137.46 49.20,137.74 49.22,138.01 49.24,138.27 49.26,138.53 49.27,138.77 49.29,139.01 49.31,139.23 49.33,139.45 49.35,139.66 49.37,139.86 49.39,140.06 49.41,140.24 49.43,140.42 49.45,140.60 49.46,140.76 49.48,140.92 49.50,141.07 49.52,141.22 49.54,141.36 49.56,141.49 49.58,141.62 49.60,141.74 49.62,141.85 49.64,141.96 49.66,142.07 49.67,142.17 49.69,142.27 49.71,142.36 49.73,142.44 49.75,142.53 49.77,142.60 49.79,142.68 49.81,142.75 49.83,142.82 49.85,142.88 49.86,142.94 49.88,143.00 49.90,143.05 49.92,143.10 49.94,143.15 49.96,143.20 49.98,143.24 50.00,143.28 50.02,143.32 50.04,143.36 50.06,143.39 50.07,143.43 50.09,143.46 50.11,143.49 50.13,143.51 50.15,143.54 50.17,143.56 50.19,143.58 50.21,143.61 50.23,143.63 50.25,143.64 50.26,143.66 50.28,143.68 50.30,143.69 50.32,143.71 50.34,143.72 50.36,143.73 50.38,143.75 50.40,143.76 50.42,143.77 50.44,143.78 50.46,143.79 50.47,143.79 50.49,143.80 50.51,143.81 50.53,143.82 50.55,143.82 50.57,143.83 50.59,143.83 50.61,143.84 50.63,143.84 50.65,143.85 50.66,143.85 50.68,143.86 50.70,143.86 50.72,143.86 50.74,143.87 50.76,143.87 50.78,143.87 50.80,143.87 50.82,143.88 50.84,143.88 50.86,143.88 50.87,143.88 50.89,143.88 50.91,143.88 50.93,143.89 50.95,143.89 50.97,143.89 50.99,143.89 51.01,143.89 51.03,143.89 51.05,143.89 51.06,143.89 51.08,143.89 51.10,143.89 51.12,143.89 51.14,143.89 51.16,143.90 53.06,143.90 54.97,143.90 56.88,143.90 58.78,143.90 60.69,143.90 62.59,143.90 62.67,143.90 62.74,143.90 62.82,143.89 62.89,143.89 62.97,143.89 63.05,143.89 63.12,143.88 63.20,143.88 63.28,143.87 63.35,143.87 63.43,143.86 63.50,143.85 63.58,143.83 63.66,143.82 63.73,143.80 63.81,143.77 63.89,143.75 63.96,143.71 64.04,143.68 64.11,143.63 64.19,143.58 64.27,143.52 64.34,143.46 64.42,143.38 64.50,143.30 64.57,143.20 64.65,143.10 64.72,142.98 64.80,142.86 64.88,142.73 64.95,142.58 65.03,142.43 65.10,142.27 65.18,142.10 65.26,141.93 65.33,141.75 65.41,141.57 65.49,141.40 65.56,141.22 65.64,141.05 65.71,140.88 65.79,140.73 65.87,140.58 65.94,140.45 66.02,140.34 66.10,140.24 66.17,140.17 66.25,140.11 66.32,140.08 66.40,140.06 66.48,140.08 66.55,140.11 66.63,140.17 66.70,140.24 66.78,140.34 66.86,140.45 66.93,140.58 67.01,140.73 67.09,140.88 67.16,141.05 67.24,141.22 67.31,141.40 67.39,141.57 67.47,141.75 67.54,141.93 67.62,142.10 67.70,142.27 67.77,142.43 67.85,142.58 67.92,142.73 68.00,142.86 68.08,142.98 68.15,143.10 68.23,143.20 68.31,143.30 68.38,143.38 68.46,143.46 68.53,143.52 68.61,143.58 68.69,143.63 68.76,143.68 68.84,143.71 68.91,143.75 68.99,143.77 69.07,143.80 69.14,143.82 69.22,143.83 69.30,143.85 69.37,143.86 69.45,143.87 69.52,143.87 69.60,143.88 69.68,143.88 69.75,143.89 69.83,143.89 69.91,143.89 69.98,143.89 70.06,143.90 70.13,143.90 70.21,143.90 72.11,143.90 74.02,143.90 75.92,143.90 77.83,143.90 79.73,143.90 81.64,143.90 83.55,143.90 85.45,143.90 87.36,143.90 89.26,143.90 91.17,143.90 93.07,143.90 94.97,143.90 96.88,143.90 98.78,143.90 100.69,143.90 102.59,143.90 104.50,143.90" fill="none" stroke="#1a1a1a" stroke-width="1.3"/><polyline points="28.30,143.90 30.21,143.90 32.11,143.90 34.02,143.90 35.92,143.90 37.83,143.90 39.73,143.90 41.63,143.90 43.54,143.90 43.56,143.90 43.58,143.90 43.60,143.90 43.62,143.90 43.64,143.89 43.65,143.89 43.67,143.89 43.69,143.89 43.71,143.89 43.73,143.89 43.75,143.89 43.77,143.89 43.79,143.89 43.81,143.89 43.83,143.89 43.84,143.89 43.86,143.88 43.88,143.88 43.90,143.88 43.92,143.88 43.94,143.88 43.96,143.88 43.98,143.87 44.00,143.87 44.02,143.87 44.04,143.87 44.05,143.86 44.07,143.86 44.09,143.86 44.11,143.85 44.13,143.85 44.15,143.84 44.17,143.84 44.19,143.83 44.21,143.83 44.23,143.82 44.24,143.82 44.26,143.81 44.28,143.80 44.30,143.79 44.32,143.79 44.34,143.78 44.36,143.77 44.38,143.76 44.40,143.75 44.42,143.73 44.44,143.72 44.45,143.71 44.47,143.69 44.49,143.68 44.51,143.66 44.53,143.64 44.55,143.63 44.57,143.61 44.59,143.58 44.61,143.56 44.63,143.54 44.64,143.51 44.66,143.49 44.68,143.46 44.70,143.43 44.72,143.39 44.74,143.36 44.76,143.32 44.78,143.28 44.80,143.24 44.82,143.20 44.84,143.15 44.85,143.10 44.87,143.05 44.89,143.00 44.91,142.94 44.93,142.88 44.95,142.82 44.97,142.75 44.99,142.68 45.01,142.60 45.03,142.53 45.04,142.44 45.06,142.36 45.08,142.27 45.10,142.17 45.12,142.07 45.14,141.96 45.16,141.85 45.18,141.74 45.20,141.62 45.22,141.49 45.24,141.36 45.25,141.22 45.27,141.07 45.29,140.92 45.31,140.76 45.33,140.60 45.35,140.42 45.37,140.24 45.39,140.06 45.41,139.86 45.43,139.66 45.45,139.45 45.46,139.23 45.48,139.01 45.50,138.77 45.52,138.53 45.54,138.27 45.56,138.01 45.58,137.74 45.60,137.46 45.62,137.16 45.64,136.86 45.65,136.55 45.67,136.23 45.69,135.90 45.71,135.56 45.73,135.21 45.75,134.84 45.77,134.47 45.79,134.09 45.81,133.69 45.83,133.28 45.85,132.87 45.86,132.44 45.88,132.00 45.90,131.55 45.92,131.09 45.94,130.62 45.96,130.14 45.98,129.64 46.00,129.14 46.02,128.63 46.04,128.10 46.05,127.57 46.07,127.02 46.09,126.46 46.11,125.90 46.13,125.32 46.15,124.74 46.17,124.15 46.19,123.55 46.21,122.94 46.23,122.32 46.25,121.69 46.26,121.06 46.28,120.42 46.30,119.77 46.32,119.12 46.34,118.46 46.36,117.80 46.38,117.13 46.40,116.46 46.42,115.78 46.44,115.10 46.45,114.42 46.47,113.73 46.49,113.05 46.51,112.36 46.53,111.68 46.55,110.99 46.57,110.31 46.59,109.63 46.61,108.95 46.63,108.27 46.65,107.60 46.66,106.94 46.68,106.28 46.70,105.62 46.72,104.97 46.74,104.33 46.76,103.70 46.78,103.08 46.80,102.47 46.82,101.87 46.84,101.28 46.85,100.70 46.87,100.13 46.89,99.58 46.91,99.04 46.93,98.52 46.95,98.02 46.97,97.53 46.99,97.05 47.01,96.60 47.03,96.16 47.05,95.74 47.06,95.34 47.08,94.96 47.10,94.60 47.12,94.26 47.14,93.94 47.16,93.65 47.18,93.37 47.20,93.12 47.22,92.89 47.24,92.69 47.25,92.60 47.27,92.60 47.29,92.60 47.31,92.60 47.33,92.60 47.35,92.60 47.37,92.60 47.39,92.60 47.41,92.60 47.43,92.60 47.45,92.60 47.46,92.60 47.48,92.60 47.50,92.60 47.52,92.60 47.54,92.69 47.56,92.89 47.58,93.12 47.60,93.37 47.62,93.65 47.64,93.94 47.65,94.26 47.67,94.60 47.69,94.96 47.71,95.34 47.73,95.74 47.75,96.16 47.77,96.60 47.79,97.05 47.81,97.53 47.83,98.02 47.85,98.52 47.86,99.04 47.88,99.58 47.90,100.13 47.92,100.70 47.94,101.28 47.96,101.87 47.98,102.47 48.00,103.08 48.02,103.70 48.04,104.33 48.05,104.97 48.07,105.62 48.09,106.28 48.11,106.94 48.13,107.60 48.15,108.27 48.17,108.95 48.19,109.63 48.21,110.31 48.23,110.99 48.25,111.68 48.26,112.36 48.28,113.05 48.30,113.73 48.32,114.42 48.34,115.10 48.36,115.78 48.38,116.46 48.40,117.13 48.42,117.80 48.44,118.46 48.45,119.12 48.47,119.77 48.49,120.42 48.51,121.06 48.53,121.69 48.55,122.32 48.57,122.94 48.59,123.55 48.61,124.15 48.63,124.74 48.65,125.32 48.66,125.90 48.68,126.46 48.70,127.02 48.72,127.57 48.74,128.10 48.76,128.63 48.78,129.14 48.80,129.64 48.82,130.14 48.84,130.62 48.85,131.09 48.87,131.55 48.89,132.00 48.91,132.44 48.93,132.87 48.95,133.28 48.97,133.69 48.99,134.09 49.01,134.47 49.03,134.84 49.05,135.21 49.06,135.56 49.08,135.90 49.10,136.23 49.12,136.55 49.14,136.86 49.16,137.16 49.18,137.46 49.20,137.74 49.22,138.01 49.24,138.27 49.26,138.53 49.27,138.77 49.29,139.01 49.31,139.23 49.33,139.45 49.35,139.66 49.37,139.86 49.39,140.06 49.41,140.24 49.43,140.42 49.45,140.60 49.46,140.76 49.48,140.92 49.50,141.07 49.52,141.22 49.54,141.36 49.56,141.49 49.58,141.62 49.60,141.74 49.62,141.85 49.64,141.96 49.66,142.07 49.67,142.17 49.69,142.27 49.71,142.36 49.73,142.44 49.75,142.53 49.77,142.60 49.79,142.68 49.81,142.75 49.83,142.82 49.85,142.88 49.86,142.94 49.88,143.00 49.90,143.05 49.92,143.10 49.94,143.15 49.96,143.20 49.98,143.24 50.00,143.28 50.02,143.32 50.04,143.36 50.06,143.39 50.07,143.43 50.09,143.46 50.11,143.49 50.13,143.51 50.15,143.54 50.17,143.56 50.19,143.58 50.21,143.61 50.23,143.63 50.25,143.64 50.26,143.66 50.28,143.68 50.30,143.69 50.32,143.71 50.34,143.72 50.36,143.73 50.38,143.75 50.40,143.76 50.42,143.77 50.44,143.78 50.46,143.79 50.47,143.79 50.49,143.80 50.51,143.81 50.53,143.82 50.55,143.82 50.57,143.83 50.59,143.83 50.61,143.84 50.63,143.84 50.65,143.85 50.66,143.85 50.68,143.86 50.70,143.86 50.72,143.86 50.74,143.87 50.76,143.87 50.78,143.87 50.80,143.87 50.82,143.88 50.84,143.88 50.86,143.88 50.87,143.88 50.89,143.88 50.91,143.88 50.93,143.89 50.95,143.89 50.97,143.89 50.99,143.89 51.01,143.89 51.03,143.89 51.05,143.89 51.06,143.89 51.08,143.89 51.10,143.89 51.12,143.89 51.14,143.89 51.16,143.90 53.06,143.90 54.97,143.90 56.88,143.90 58.78,143.90 60.69,143.90 62.59,143.90 62.67,143.90 62.74,143.90 62.82,143.89 62.89,143.89 62.97,143.89 63.05,143.89 63.12,143.88 63.20,143.88 63.28,143.87 63.35,143.87 63.43,143.86 63.50,143.85 63.58,143.83 63.66,143.82 63.73,143.80 63.81,143.77 63.89,143.75 63.96,143.71 64.04,143.68 64.11,143.63 64.19,143.58 64.27,143.52 64.34,143.46 64.42,143.38 64.50,143.30 64.57,143.20 64.65,143.10 64.72,142.98 64.80,142.86 64.88,142.73 64.95,142.58 65.03,142.43 65.10,142.27 65.18,142.10 65.26,141.93 65.33,141.75 65.41,141.57 65.49,141.40 65.56,141.22 65.64,141.05 65.71,140.88 65.79,140.73 65.87,140.58 65.94,140.45 66.02,140.34 66.10,140.24 66.17,140.17 66.25,140.11 66.32,140.08 66.40,140.06 66.48,140.08 66.55,140.11 66.63,140.17 66.70,140.24 66.78,140.34 66.86,140.45 66.93,140.58 67.01,140.73 67.09,140.88 67.16,141.05 67.24,141.22 67.31,141.40 67.39,141.57 67.47,141.75 67.54,141.93 67.62,142.10 67.70,142.27 67.77,142.43 67.85,142.58 67.92,142.73 68.00,142.86 68.08,142.98 68.15,143.10 68.23,143.20 68.31,143.30 68.38,143.38 68.46,143.46 68.53,143.52 68.61,143.58 68.69,143.63 68.76,143.68 68.84,143.71 68.91,143.75 68.99,143.77 69.07,143.80 69.14,143.82 69.22,143.83 69.30,143.85 69.37,143.86 69.45,143.87 69.52,143.87 69.60,143.88 69.68,143.88 69.75,143.89 69.83,143.89 69.91,143.89 69.98,143.89 70.06,143.90 70.13,143.90 70.21,143.90 72.11,143.90 74.02,143.90 75.92,143.90 77.83,143.90 79.73,143.90 81.64,143.90 83.55,143.90 85.45,143.90 87.36,143.90 89.26,143.90 91.17,143.90 93.07,143.90 94.97,143.90 96.88,143.90 98.78,143.90 100.69,143.90 102.59,143.90 104.50,143.90" fill="none" stroke="#2424ff" stroke-width="1.2" stroke-dasharray="2.6,2.6"/><g stroke="#777" stroke-width="0.5"><line x1="28.3" y1="143.90" x2="29.900000000000002" y2="143.90"/><line x1="28.3" y1="129.15" x2="29.900000000000002" y2="129.15"/><line x1="28.3" y1="114.40" x2="29.900000000000002" y2="114.40"/><line x1="28.3" y1="99.65" x2="29.900000000000002" y2="99.65"/><line x1="28.30" y1="147" x2="28.30" y2="145.4"/><line x1="47.35" y1="147" x2="47.35" y2="145.4"/><line x1="66.40" y1="147" x2="66.40" y2="145.4"/><line x1="85.45" y1="147" x2="85.45" y2="145.4"/><line x1="104.50" y1="147" x2="104.50" y2="145.4"/></g><g font-family="Liberation Sans, Arial, sans-serif" font-weight="bold" font-size="5.9" fill="#111" text-anchor="end"><text x="27" y="145.90">0.00</text><text x="27" y="131.15">0.02</text><text x="27" y="116.40">0.04</text><text x="27" y="101.65">0.06</text></g><g font-family="Liberation Sans, Arial, sans-serif" font-weight="bold" font-size="5.9" fill="#111" text-anchor="middle"><text x="28.30" y="153.3">0</text><text x="47.35" y="153.3">500</text><text x="66.40" y="153.3">1000</text><text x="85.45" y="153.3">1500</text><text x="104.50" y="153.3">2000</text></g><g font-family="Liberation Sans, Arial, sans-serif" font-weight="bold" fill="#111"><text x="51.9" y="97.6" font-size="5.85">f = 501.13 MHz</text><text x="64.4" y="103.3" font-size="5">θ = 60°</text><text x="61.8" y="109.8" font-size="5.8">Lorentz Fitting</text></g><line x1="51.3" y1="101.4" x2="62.7" y2="101.4" stroke="#111" stroke-width="0.9"/><line x1="51.3" y1="107.8" x2="61" y2="107.8" stroke="#2424ff" stroke-width="1" stroke-dasharray="3,2.2"/><g><path d="M76.3,130 L86.40,130.00 A10.1,10.1 0 0 0 86.35,128.98 Z" fill="hsl(337,88%,55%)"/><path d="M76.3,130 L86.36,129.12 A10.1,10.1 0 0 0 86.22,128.11 Z" fill="hsl(340,88%,55%)"/><path d="M76.3,130 L86.25,128.25 A10.1,10.1 0 0 0 86.02,127.25 Z" fill="hsl(343,88%,55%)"/><path d="M76.3,130 L86.06,127.39 A10.1,10.1 0 0 0 85.74,126.41 Z" fill="hsl(347,88%,55%)"/><path d="M76.3,130 L85.79,126.55 A10.1,10.1 0 0 0 85.39,125.60 Z" fill="hsl(350,88%,55%)"/><path d="M76.3,130 L85.45,125.73 A10.1,10.1 0 0 0 84.98,124.83 Z" fill="hsl(353,88%,55%)"/><path d="M76.3,130 L85.05,124.95 A10.1,10.1 0 0 0 84.49,124.09 Z" fill="hsl(357,88%,55%)"/><path d="M76.3,130 L84.57,124.21 A10.1,10.1 0 0 0 83.95,123.40 Z" fill="hsl(0,88%,55%)"/><path d="M76.3,130 L84.04,123.51 A10.1,10.1 0 0 0 83.34,122.76 Z" fill="hsl(3,88%,55%)"/><path d="M76.3,130 L83.44,122.86 A10.1,10.1 0 0 0 82.68,122.17 Z" fill="hsl(6,88%,55%)"/><path d="M76.3,130 L82.79,122.26 A10.1,10.1 0 0 0 81.98,121.65 Z" fill="hsl(10,88%,55%)"/><path d="M76.3,130 L82.09,121.73 A10.1,10.1 0 0 0 81.23,121.18 Z" fill="hsl(12,88%,55%)"/><path d="M76.3,130 L81.35,121.25 A10.1,10.1 0 0 0 80.44,120.79 Z" fill="hsl(16,88%,55%)"/><path d="M76.3,130 L80.57,120.85 A10.1,10.1 0 0 0 79.62,120.46 Z" fill="hsl(18,88%,55%)"/><path d="M76.3,130 L79.75,120.51 A10.1,10.1 0 0 0 78.78,120.21 Z" fill="hsl(22,88%,55%)"/><path d="M76.3,130 L78.91,120.24 A10.1,10.1 0 0 0 77.91,120.03 Z" fill="hsl(24,88%,55%)"/><path d="M76.3,130 L78.05,120.05 A10.1,10.1 0 0 0 77.04,119.93 Z" fill="hsl(28,88%,55%)"/><path d="M76.3,130 L77.18,119.94 A10.1,10.1 0 0 0 76.16,119.90 Z" fill="hsl(30,88%,55%)"/><path d="M76.3,130 L76.30,119.90 A10.1,10.1 0 0 0 75.28,119.95 Z" fill="hsl(34,88%,55%)"/><path d="M76.3,130 L75.42,119.94 A10.1,10.1 0 0 0 74.41,120.08 Z" fill="hsl(38,88%,55%)"/><path d="M76.3,130 L74.55,120.05 A10.1,10.1 0 0 0 73.55,120.28 Z" fill="hsl(43,88%,55%)"/><path d="M76.3,130 L73.69,120.24 A10.1,10.1 0 0 0 72.71,120.56 Z" fill="hsl(47,88%,55%)"/><path d="M76.3,130 L72.85,120.51 A10.1,10.1 0 0 0 71.90,120.91 Z" fill="hsl(51,88%,55%)"/><path d="M76.3,130 L72.03,120.85 A10.1,10.1 0 0 0 71.13,121.32 Z" fill="hsl(55,88%,55%)"/><path d="M76.3,130 L71.25,121.25 A10.1,10.1 0 0 0 70.39,121.81 Z" fill="hsl(59,88%,55%)"/><path d="M76.3,130 L70.51,121.73 A10.1,10.1 0 0 0 69.70,122.35 Z" fill="hsl(64,88%,55%)"/><path d="M76.3,130 L69.81,122.26 A10.1,10.1 0 0 0 69.06,122.96 Z" fill="hsl(68,88%,55%)"/><path d="M76.3,130 L69.16,122.86 A10.1,10.1 0 0 0 68.47,123.62 Z" fill="hsl(73,88%,55%)"/><path d="M76.3,130 L68.56,123.51 A10.1,10.1 0 0 0 67.95,124.32 Z" fill="hsl(80,88%,55%)"/><path d="M76.3,130 L68.03,124.21 A10.1,10.1 0 0 0 67.48,125.07 Z" fill="hsl(87,88%,55%)"/><path d="M76.3,130 L67.55,124.95 A10.1,10.1 0 0 0 67.09,125.86 Z" fill="hsl(93,88%,55%)"/><path d="M76.3,130 L67.15,125.73 A10.1,10.1 0 0 0 66.76,126.68 Z" fill="hsl(100,88%,55%)"/><path d="M76.3,130 L66.81,126.55 A10.1,10.1 0 0 0 66.51,127.52 Z" fill="hsl(107,88%,55%)"/><path d="M76.3,130 L66.54,127.39 A10.1,10.1 0 0 0 66.33,128.39 Z" fill="hsl(113,88%,55%)"/><path d="M76.3,130 L66.35,128.25 A10.1,10.1 0 0 0 66.23,129.26 Z" fill="hsl(120,88%,55%)"/><path d="M76.3,130 L66.24,129.12 A10.1,10.1 0 0 0 66.20,130.14 Z" fill="hsl(127,88%,55%)"/><path d="M76.3,130 L66.20,130.00 A10.1,10.1 0 0 0 66.25,131.02 Z" fill="hsl(133,88%,55%)"/><path d="M76.3,130 L66.24,130.88 A10.1,10.1 0 0 0 66.38,131.89 Z" fill="hsl(140,88%,55%)"/><path d="M76.3,130 L66.35,131.75 A10.1,10.1 0 0 0 66.58,132.75 Z" fill="hsl(147,88%,55%)"/><path d="M76.3,130 L66.54,132.61 A10.1,10.1 0 0 0 66.86,133.59 Z" fill="hsl(154,88%,55%)"/><path d="M76.3,130 L66.81,133.45 A10.1,10.1 0 0 0 67.21,134.40 Z" fill="hsl(161,88%,55%)"/><path d="M76.3,130 L67.15,134.27 A10.1,10.1 0 0 0 67.62,135.17 Z" fill="hsl(168,88%,55%)"/><path d="M76.3,130 L67.55,135.05 A10.1,10.1 0 0 0 68.11,135.91 Z" fill="hsl(175,88%,55%)"/><path d="M76.3,130 L68.03,135.79 A10.1,10.1 0 0 0 68.65,136.60 Z" fill="hsl(182,88%,55%)"/><path d="M76.3,130 L68.56,136.49 A10.1,10.1 0 0 0 69.26,137.24 Z" fill="hsl(189,88%,55%)"/><path d="M76.3,130 L69.16,137.14 A10.1,10.1 0 0 0 69.92,137.83 Z" fill="hsl(195,88%,55%)"/><path d="M76.3,130 L69.81,137.74 A10.1,10.1 0 0 0 70.62,138.35 Z" fill="hsl(200,88%,55%)"/><path d="M76.3,130 L70.51,138.27 A10.1,10.1 0 0 0 71.37,138.82 Z" fill="hsl(205,88%,55%)"/><path d="M76.3,130 L71.25,138.75 A10.1,10.1 0 0 0 72.16,139.21 Z" fill="hsl(211,88%,55%)"/><path d="M76.3,130 L72.03,139.15 A10.1,10.1 0 0 0 72.98,139.54 Z" fill="hsl(216,88%,55%)"/><path d="M76.3,130 L72.85,139.49 A10.1,10.1 0 0 0 73.82,139.79 Z" fill="hsl(221,88%,55%)"/><path d="M76.3,130 L73.69,139.76 A10.1,10.1 0 0 0 74.69,139.97 Z" fill="hsl(227,88%,55%)"/><path d="M76.3,130 L74.55,139.95 A10.1,10.1 0 0 0 75.56,140.07 Z" fill="hsl(232,88%,55%)"/><path d="M76.3,130 L75.42,140.06 A10.1,10.1 0 0 0 76.44,140.10 Z" fill="hsl(237,88%,55%)"/><path d="M76.3,130 L76.30,140.10 A10.1,10.1 0 0 0 77.32,140.05 Z" fill="hsl(242,88%,55%)"/><path d="M76.3,130 L77.18,140.06 A10.1,10.1 0 0 0 78.19,139.92 Z" fill="hsl(247,88%,55%)"/><path d="M76.3,130 L78.05,139.95 A10.1,10.1 0 0 0 79.05,139.72 Z" fill="hsl(251,88%,55%)"/><path d="M76.3,130 L78.91,139.76 A10.1,10.1 0 0 0 79.89,139.44 Z" fill="hsl(256,88%,55%)"/><path d="M76.3,130 L79.75,139.49 A10.1,10.1 0 0 0 80.70,139.09 Z" fill="hsl(260,88%,55%)"/><path d="M76.3,130 L80.57,139.15 A10.1,10.1 0 0 0 81.47,138.68 Z" fill="hsl(264,88%,55%)"/><path d="M76.3,130 L81.35,138.75 A10.1,10.1 0 0 0 82.21,138.19 Z" fill="hsl(269,88%,55%)"/><path d="M76.3,130 L82.09,138.27 A10.1,10.1 0 0 0 82.90,137.65 Z" fill="hsl(273,88%,55%)"/><path d="M76.3,130 L82.79,137.74 A10.1,10.1 0 0 0 83.54,137.04 Z" fill="hsl(278,88%,55%)"/><path d="M76.3,130 L83.44,137.14 A10.1,10.1 0 0 0 84.13,136.38 Z" fill="hsl(283,88%,55%)"/><path d="M76.3,130 L84.04,136.49 A10.1,10.1 0 0 0 84.65,135.68 Z" fill="hsl(289,88%,55%)"/><path d="M76.3,130 L84.57,135.79 A10.1,10.1 0 0 0 85.12,134.93 Z" fill="hsl(295,88%,55%)"/><path d="M76.3,130 L85.05,135.05 A10.1,10.1 0 0 0 85.51,134.14 Z" fill="hsl(301,88%,55%)"/><path d="M76.3,130 L85.45,134.27 A10.1,10.1 0 0 0 85.84,133.32 Z" fill="hsl(308,88%,55%)"/><path d="M76.3,130 L85.79,133.45 A10.1,10.1 0 0 0 86.09,132.48 Z" fill="hsl(314,88%,55%)"/><path d="M76.3,130 L86.06,132.61 A10.1,10.1 0 0 0 86.27,131.61 Z" fill="hsl(320,88%,55%)"/><path d="M76.3,130 L86.25,131.75 A10.1,10.1 0 0 0 86.37,130.74 Z" fill="hsl(326,88%,55%)"/><path d="M76.3,130 L86.36,130.88 A10.1,10.1 0 0 0 86.40,129.86 Z" fill="hsl(332,88%,55%)"/></g><circle cx="76.3" cy="130" r="3.4" fill="#fff"/><g stroke="#fff" stroke-width="0.9" stroke-linecap="round"><line x1="76.3" y1="121.6" x2="76.3" y2="125.2"/><line x1="76.3" y1="138.4" x2="76.3" y2="134.8"/><line x1="67.89999999999999" y1="130" x2="71.5" y2="130"/><line x1="84.7" y1="130" x2="81.1" y2="130"/></g><g font-family="Liberation Serif, Times New Roman, serif" font-weight="bold" font-size="9.2" fill="#111"><text x="71.6" y="119">+m<tspan font-size="6" dy="1.8">y</tspan></text><text x="87.6" y="134">+m<tspan font-size="6" dy="1.8">x</tspan></text></g><g transform="rotate(0 128.4 124)"><ellipse cx="128.4" cy="124" rx="9.9" ry="9.1" fill="url(#skg0)" filter="url(#blur1)"/><ellipse cx="129.0" cy="124.3" rx="8.4" ry="7.6" fill="#000" filter="url(#blur2)"/></g><g transform="rotate(0 168.2 124)"><ellipse cx="168.2" cy="124" rx="9.7" ry="9.7" fill="url(#skg1)" filter="url(#blur1)"/><ellipse cx="168.7" cy="124.3" rx="8.2" ry="8.2" fill="#000" filter="url(#blur2)"/></g><g transform="rotate(15 206.8 124.2)"><ellipse cx="206.8" cy="124.2" rx="9.3" ry="10.1" fill="url(#skg2)" filter="url(#blur1)"/><ellipse cx="207.3" cy="124.10000000000001" rx="7.800000000000001" ry="8.6" fill="#000" filter="url(#blur2)"/></g><g transform="rotate(0 246.4 124)"><ellipse cx="246.4" cy="124" rx="9.7" ry="9.8" fill="url(#skg3)" filter="url(#blur1)"/><ellipse cx="246.9" cy="124.1" rx="8.2" ry="8.3" fill="#000" filter="url(#blur2)"/></g><g transform="rotate(0 286 123.8)"><ellipse cx="286" cy="123.8" rx="9.6" ry="9.7" fill="url(#skg4)" filter="url(#blur1)"/><ellipse cx="286.5" cy="124.2" rx="8.1" ry="8.2" fill="#000" filter="url(#blur2)"/></g><g font-family="Liberation Serif, Times New Roman, serif" font-weight="bold" font-size="8.8" fill="#111"><text x="117.1" y="148.1">t=10 ns</text><text x="159.6" y="148.1">10.5 ns</text><text x="199.9" y="148.1">10.8 ns</text><text x="239.9" y="148.1">11.3 ns</text><text x="277.4" y="148.1">11.7 ns</text></g><g font-family="Liberation Serif, Times New Roman, serif" font-size="8.9" fill="#111"><text x="45.3" y="168">Input Layer</text><text x="147.7" y="168">Reservoir Layer</text></g><rect x="19.3" y="172.7" width="89.1" height="70.4" rx="10.5" fill="none" stroke="#3f72b4" stroke-width="1.1" stroke-dasharray="1.3,1.5"/><g fill="#ecd3a6"><circle cx="148" cy="189" r="9.45"/><circle cx="163" cy="185" r="9.95"/><circle cx="180" cy="185" r="9.95"/><circle cx="197" cy="185" r="9.95"/><circle cx="212" cy="189" r="9.45"/><circle cx="217" cy="200" r="8.45"/><circle cx="217" cy="214" r="8.45"/><circle cx="213" cy="227" r="9.45"/><circle cx="201" cy="232" r="9.45"/><circle cx="184" cy="232.5" r="9.45"/><circle cx="167" cy="232.5" r="9.45"/><circle cx="151" cy="230" r="9.45"/><circle cx="141" cy="222" r="9.45"/><circle cx="140.5" cy="208" r="8.95"/><circle cx="141.5" cy="195" r="8.95"/><circle cx="180" cy="208" r="26.45"/><circle cx="155" cy="208" r="14.45"/><circle cx="205" cy="208" r="14.45"/></g><g fill="#fbe9c8"><circle cx="148" cy="189" r="9"/><circle cx="163" cy="185" r="9.5"/><circle cx="180" cy="185" r="9.5"/><circle cx="197" cy="185" r="9.5"/><circle cx="212" cy="189" r="9"/><circle cx="217" cy="200" r="8"/><circle cx="217" cy="214" r="8"/><circle cx="213" cy="227" r="9"/><circle cx="201" cy="232" r="9"/><circle cx="184" cy="232.5" r="9"/><circle cx="167" cy="232.5" r="9"/><circle cx="151" cy="230" r="9"/><circle cx="141" cy="222" r="9"/><circle cx="140.5" cy="208" r="8.5"/><circle cx="141.5" cy="195" r="8.5"/><circle cx="180" cy="208" r="26"/><circle cx="155" cy="208" r="14"/><circle cx="205" cy="208" r="14"/></g><rect x="132" y="173" width="94.4" height="70.3" rx="10.5" fill="none" stroke="#3f72b4" stroke-width="1.1" stroke-dasharray="1.3,1.5"/><rect x="251.5" y="167" width="64.9" height="83.4" rx="9" fill="none" stroke="#a2c0e0" stroke-width="0.9"/><text font-family="Liberation Serif, Times New Roman, serif" font-size="8.9" fill="#111" x="48" y="184">Preprocess</text><circle cx="40.2" cy="206" r="17.2" fill="#4f7d45"/><circle cx="40.2" cy="206" r="15.3" fill="#6b9b5c"/><path d="M40.8,190.7 A15.3,15.3 0 0 1 40.8,221.3 Z" fill="#5d8c50"/><path clip-path="url(#ic)" d="M28.5,192.3 C34,191.3 38.2,194.2 38.7,199 L40.9,203.8 L39.1,205.1 L39.7,207.3 L38.9,208.6 L39.3,210.9 C38.6,213 36.6,213.5 35.6,213.8 L35.9,223 L20,223 L20,192 Z" fill="#c5f3ac"/><g fill="none" stroke="#c5f3ac" stroke-width="1.75" stroke-linecap="round"><path d="M44.58,202.14 A5.3,5.3 0 0 1 44.58,208.66"/><path d="M47.02,199.01 A9.2,9.2 0 0 1 47.02,211.79"/><path d="M50.21,196.57 A13.2,13.2 0 0 1 50.21,214.23"/></g><rect x="60" y="200.8" width="16" height="14.4" fill="#d4d4d4"/><ellipse cx="68.2" cy="208.5" rx="4.6" ry="3.4" fill="#fff" filter="url(#halo)"/><text font-family="Liberation Serif, Times New Roman, serif" font-style="italic" font-weight="bold" font-size="6.8" fill="#000" x="68.1" y="210.3" text-anchor="middle">ae</text><line x1="78.3" y1="210.3" x2="83" y2="210.3" stroke="#111" stroke-width="1.1"/><polygon points="85,210.3 82,208.3 82,212.3" fill="#111"/><text font-family="Liberation Serif, Times New Roman, serif" font-weight="bold" font-size="9" fill="#111" x="85.5" y="212.8">f<tspan font-size="5.8" dy="1.8">A</tspan><tspan dy="-1.8">, f</tspan><tspan font-size="5.8" dy="1.8">B</tspan></text><g fill="#fff" stroke="#f0a070" stroke-width="1.2"><circle cx="96" cy="200" r="2.5"/><circle cx="96" cy="221.8" r="2.5"/></g><g font-family="Liberation Serif, Times New Roman, serif" font-size="7.75" fill="#111"><text x="51.4" y="229">12 formant</text><text x="51.1" y="236.2">frequencies</text></g><g stroke="#111" stroke-width="0.8"><line x1="98.6" y1="200.5" x2="133" y2="205.3"/><line x1="98.6" y1="221.3" x2="133" y2="213.7"/></g><g fill="#111"><polygon points="136,205.8 132.6,203.6 132.2,207.3"/><polygon points="136,213 132.2,211.6 132.9,215.2"/></g><rect x="158.9" y="186" width="33.8" height="33.5" fill="#fff"/><g><circle cx="162.4" cy="190.2" r="2.75" fill="#050505" stroke="#28d040" stroke-width="1"/><circle cx="162.4" cy="198.9" r="2.75" fill="#050505" stroke="#28d040" stroke-width="1"/><circle cx="162.4" cy="207.4" r="2.75" fill="#050505" stroke="#28d040" stroke-width="1"/><circle cx="162.4" cy="215.6" r="2.75" fill="#050505" stroke="#28d040" stroke-width="1"/><circle cx="171.6" cy="190.2" r="2.75" fill="#050505" stroke="#18a8d8" stroke-width="1"/><circle cx="171.6" cy="198.9" r="2.75" fill="#050505" stroke="#18a8d8" stroke-width="1"/><circle cx="171.6" cy="207.4" r="2.75" fill="#050505" stroke="#18a8d8" stroke-width="1"/><circle cx="171.6" cy="215.6" r="2.75" fill="#050505" stroke="#18a8d8" stroke-width="1"/><circle cx="180.1" cy="190.2" r="2.75" fill="#050505" stroke="#5028d8" stroke-width="1"/><circle cx="180.1" cy="198.9" r="2.75" fill="#050505" stroke="#5028d8" stroke-width="1"/><circle cx="180.1" cy="207.4" r="2.75" fill="#050505" stroke="#5028d8" stroke-width="1"/><circle cx="180.1" cy="215.6" r="2.75" fill="#050505" stroke="#5028d8" stroke-width="1"/><circle cx="188.5" cy="190.2" r="2.75" fill="#050505" stroke="#e01c8c" stroke-width="1"/><circle cx="188.5" cy="198.9" r="2.75" fill="#050505" stroke="#e01c8c" stroke-width="1"/><circle cx="188.5" cy="207.4" r="2.75" fill="#050505" stroke="#e01c8c" stroke-width="1"/><circle cx="188.5" cy="215.6" r="2.75" fill="#050505" stroke="#e01c8c" stroke-width="1"/></g><g font-family="Liberation Serif, Times New Roman, serif" font-weight="bold" font-size="6.4" fill="#000"><text x="145.2" y="192.5">I1</text><text x="145.2" y="201.2">I2</text><text x="145.2" y="209.7">I3</text><text x="145.2" y="217.9">I4</text></g><g stroke="#000" stroke-width="0.9"><line x1="151.3" y1="190.5" x2="155" y2="190.5"/><line x1="151.3" y1="199.20000000000002" x2="155" y2="199.20000000000002"/><line x1="151.3" y1="207.70000000000002" x2="155" y2="207.70000000000002"/><line x1="151.3" y1="215.9" x2="155" y2="215.9"/></g><g fill="#000"><polygon points="157.6,190.5 154.6,188.79999999999998 154.6,192.2"/><polygon points="157.6,199.20000000000002 154.6,197.5 154.6,200.9"/><polygon points="157.6,207.70000000000002 154.6,206.0 154.6,209.4"/><polygon points="157.6,215.9 154.6,214.2 154.6,217.6"/></g><g stroke="#000" stroke-width="0.9"><line x1="162.4" y1="223.5" x2="162.4" y2="228"/><line x1="171.6" y1="223.5" x2="171.6" y2="228"/><line x1="180.1" y1="223.5" x2="180.1" y2="228"/><line x1="188.5" y1="223.5" x2="188.5" y2="228"/></g><g fill="#000"><polygon points="162.4,221 160.9,224.4 163.9,224.4"/><polygon points="171.6,221 170.1,224.4 173.1,224.4"/><polygon points="180.1,221 178.6,224.4 181.6,224.4"/><polygon points="188.5,221 187.0,224.4 190.0,224.4"/></g><g font-family="Liberation Serif, Times New Roman, serif" font-weight="bold" font-size="6.4" fill="#000" text-anchor="middle"><text x="162.1" y="234.3">T1</text><text x="171.29999999999998" y="234.3">T2</text><text x="179.79999999999998" y="234.3">T3</text><text x="188.2" y="234.3">T4</text></g><g font-family="Liberation Serif, Times New Roman, serif" font-size="6.65" fill="#111"><text x="195" y="187.9">STNOs</text><text x="195" y="195.7">Array</text><text x="195" y="203.5">Physical</text><text x="195" y="211.4">Reservoir</text></g><g stroke="#555" stroke-width="0.45"><line x1="224.2" y1="185.6" x2="283.5" y2="183.6"/><line x1="224.2" y1="185.6" x2="283.5" y2="193"/><line x1="224.2" y1="185.6" x2="283.5" y2="201.6"/><line x1="224.2" y1="185.6" x2="283.5" y2="225.2"/><line x1="224.2" y1="185.6" x2="283.5" y2="234"/><line x1="224.2" y1="202.6" x2="283.5" y2="183.6"/><line x1="224.2" y1="202.6" x2="283.5" y2="193"/><line x1="224.2" y1="202.6" x2="283.5" y2="201.6"/><line x1="224.2" y1="202.6" x2="283.5" y2="225.2"/><line x1="224.2" y1="202.6" x2="283.5" y2="234"/><line x1="224.2" y1="219.8" x2="283.5" y2="183.6"/><line x1="224.2" y1="219.8" x2="283.5" y2="193"/><line x1="224.2" y1="219.8" x2="283.5" y2="201.6"/><line x1="224.2" y1="219.8" x2="283.5" y2="225.2"/><line x1="224.2" y1="219.8" x2="283.5" y2="234"/></g><g fill="#fff" stroke="#94cc6c" stroke-width="1.2"><circle cx="286.2" cy="183.6" r="2.6"/><circle cx="286.2" cy="193" r="2.6"/><circle cx="286.2" cy="201.6" r="2.6"/><circle cx="286.2" cy="225.2" r="2.6"/><circle cx="286.2" cy="234" r="2.6"/></g><g fill="#1a5a1a"><circle cx="286.5" cy="210.8" r="0.8"/><circle cx="286.5" cy="214.2" r="0.8"/><circle cx="286.5" cy="217.6" r="0.8"/></g><line x1="289" y1="201.3" x2="295" y2="201.3" stroke="#3a7a2a" stroke-width="0.9"/><polygon points="298,201.3 294.5,199.3 294.5,203.3" fill="#3a7a2a"/><rect x="298.5" y="193.2" width="16" height="15.5" fill="#d4d4d4"/><ellipse cx="306.6" cy="200.9" rx="4.6" ry="3.4" fill="#fff" filter="url(#halo)"/><text font-family="Liberation Serif, Times New Roman, serif" font-style="italic" font-weight="bold" font-size="6.8" fill="#000" x="306.5" y="202.7" text-anchor="middle">ae</text><text font-family="Liberation Serif, Times New Roman, serif" font-size="8.2" fill="#111" x="260.9" y="176">W<tspan font-size="5.6" dy="2">out</tspan></text><text font-family="Liberation Serif, Times New Roman, serif" font-size="8.85" fill="#111" x="256" y="245.5">Readout Layer</text><g stroke="#4b8a2c" stroke-width="0.75"><line x1="349.80" y1="187.30" x2="336.30" y2="203.20"/><line x1="349.80" y1="187.30" x2="357.20" y2="205.00"/><line x1="349.80" y1="187.30" x2="383.00" y2="204.80"/><line x1="349.80" y1="187.30" x2="403.90" y2="206.20"/><line x1="386.30" y1="188.00" x2="336.30" y2="203.20"/><line x1="386.30" y1="188.00" x2="357.20" y2="205.00"/><line x1="386.30" y1="188.00" x2="383.00" y2="204.80"/><line x1="386.30" y1="188.00" x2="403.90" y2="206.20"/></g><g fill="#4b8a2c"><polygon points="336.30,203.20 337.09,200.72 338.62,202.02"/><polygon points="357.20,205.00 355.35,203.17 357.20,202.40"/><polygon points="383.00,204.80 380.41,204.57 381.34,202.80"/><polygon points="403.90,206.20 401.30,206.35 401.96,204.46"/><polygon points="336.30,203.20 338.31,201.55 338.89,203.46"/><polygon points="357.20,205.00 358.77,202.93 359.78,204.65"/><polygon points="383.00,204.80 382.48,202.25 384.44,202.64"/><polygon points="403.90,206.20 401.51,205.17 402.95,203.78"/></g><g fill="#1ba8ea"><circle cx="333.3" cy="215.5" r="11.6"/><circle cx="358.7" cy="216.3" r="11.6"/><circle cx="383.7" cy="216.3" r="11.6"/><circle cx="409" cy="217.6" r="11.6"/></g><g fill="#f6b400"><circle cx="349.9" cy="176.4" r="11.1"/><circle cx="387.6" cy="177" r="11.1"/></g><line x1="363.5" y1="175.8" x2="375" y2="175.8" stroke="#3a7a2a" stroke-width="0.8"/><polygon points="361.8,175.8 364.3,174.5 364.3,177.1" fill="#3a7a2a"/><polygon points="376.8,175.8 374.3,174.5 374.3,177.1" fill="#3a7a2a"/><g font-family="Liberation Serif, Times New Roman, serif" font-weight="bold" font-size="9.2" fill="#111" text-anchor="middle"><text x="350.6" y="178">f<tspan font-size="5.8" dy="2.2">A</tspan></text><text x="388" y="178.6">f<tspan font-size="5.8" dy="2.2">B</tspan></text><text x="333.3" y="218.6">1</text><text x="358.7" y="219.4">2</text><text x="383.7" y="219.4">3</text><text x="409" y="220.7">4</text></g><g font-family="Liberation Serif, Times New Roman, serif" font-size="8.6" fill="#111"><text x="358.8" y="166.5" font-size="8.95">Inputs</text><text x="370" y="227" text-anchor="middle" font-size="7.8">Neurons</text><text x="344.3" y="238" font-size="8.94">Synchronization</text><text x="347" y="247.3" font-size="8.83">Configurations</text><text x="398.9" y="191.4" font-size="7.26">Weight</text><text x="399" y="200.6" font-size="7.28">Vector</text></g></svg></body></html>
